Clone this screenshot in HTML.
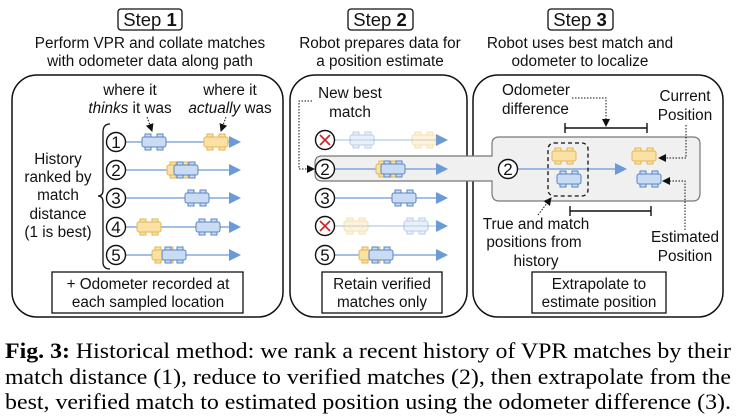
<!DOCTYPE html>
<html><head><meta charset="utf-8"><style>
html,body{margin:0;padding:0;background:#fff;width:736px;height:417px;overflow:hidden}
svg{display:block}
.t{font-family:"Liberation Sans",sans-serif;font-size:15.3px;fill:#111;text-anchor:middle}
.n{font-family:"Liberation Sans",sans-serif;font-size:17px;fill:#111;text-anchor:middle}
.c{font-family:"Liberation Serif",serif;font-size:22px;fill:#000}
</style></head><body>
<svg width="736" height="417" viewBox="0 0 736 417" xmlns="http://www.w3.org/2000/svg">
<defs>
<g id="cb"><rect x="3" y="0" width="6" height="4" fill="#c9dcf3" stroke="#5b85c0" stroke-width="1"/><rect x="15" y="0" width="6" height="4" fill="#c9dcf3" stroke="#5b85c0"/><rect x="3" y="12" width="6" height="4" fill="#c9dcf3" stroke="#5b85c0"/><rect x="15" y="12" width="6" height="4" fill="#c9dcf3" stroke="#5b85c0"/><rect x="0" y="3" width="24" height="10" rx="2" fill="#c9dcf3" stroke="#5b85c0"/></g>
<g id="cy"><rect x="3" y="0" width="6" height="4" fill="#fbe2a4" stroke="#e2b653"/><rect x="15" y="0" width="6" height="4" fill="#fbe2a4" stroke="#e2b653"/><rect x="3" y="12" width="6" height="4" fill="#fbe2a4" stroke="#e2b653"/><rect x="15" y="12" width="6" height="4" fill="#fbe2a4" stroke="#e2b653"/><rect x="0" y="3" width="24" height="10" rx="2" fill="#fbe2a4" stroke="#e2b653"/></g>
<marker id="ah" markerWidth="8" markerHeight="8" refX="7" refY="4" orient="auto" markerUnits="userSpaceOnUse"><path d="M0,0 L8,4 L0,8 z" fill="#111"/></marker>
</defs>

<rect x="118" y="9" width="64" height="21" rx="3" fill="#fff" stroke="#111" stroke-width="1.3"/>
<text x="150" y="26" class="t" style="font-size:18.5px">Step <tspan font-weight="bold">1</tspan></text>
<text x="150" y="48" class="t">Perform VPR and collate matches</text>
<text x="150" y="66" class="t">with odometer data along path</text>
<rect x="348" y="9" width="65" height="21" rx="3" fill="#fff" stroke="#111" stroke-width="1.3"/>
<text x="380" y="26" class="t" style="font-size:18.5px">Step <tspan font-weight="bold">2</tspan></text>
<text x="380" y="48" class="t">Robot prepares data for</text>
<text x="380" y="66" class="t">a position estimate</text>
<rect x="548" y="9" width="65" height="21" rx="3" fill="#fff" stroke="#111" stroke-width="1.3"/>
<text x="580" y="26" class="t" style="font-size:18.5px">Step <tspan font-weight="bold">3</tspan></text>
<text x="580" y="48" class="t">Robot uses best match and</text>
<text x="580" y="66" class="t">odometer to localize</text>

<rect x="12" y="75" width="271" height="242" rx="25" fill="none" stroke="#111" stroke-width="1.5"/>
<rect x="290" y="75" width="177" height="242" rx="25" fill="none" stroke="#111" stroke-width="1.5"/>
<rect x="473" y="75" width="250" height="242" rx="25" fill="none" stroke="#111" stroke-width="1.5"/>

<text x="130" y="95" class="t">where it</text>
<text x="130" y="113" class="t"><tspan font-style="italic">thinks</tspan> it was</text>
<text x="230" y="95" class="t">where it</text>
<text x="230" y="113" class="t"><tspan font-style="italic">actually</tspan> was</text>
<path d="M147,117 L152,131" stroke="#111" stroke-dasharray="1.5,1.5" fill="none" marker-end="url(#ah)"/>
<path d="M226,117 L221,131" stroke="#111" stroke-dasharray="1.5,1.5" fill="none" marker-end="url(#ah)"/>
<text x="58" y="164" class="t">History</text>
<text x="58" y="182" class="t">ranked by</text>
<text x="58" y="200" class="t">match</text>
<text x="58" y="219" class="t">distance</text>
<text x="58" y="237" class="t">(1 is best)</text>
<path d="M110,124 Q103,124 103,132 L103,190 Q103,196 98,196 Q103,196 103,202 L103,262 Q103,269 110,269" fill="none" stroke="#111" stroke-width="1.3"/>
<g stroke="#6a9ad8" stroke-width="1.3">
<line x1="124" y1="142" x2="232" y2="142"/><line x1="124" y1="170" x2="232" y2="170"/><line x1="124" y1="198" x2="232" y2="198"/><line x1="124" y1="227" x2="232" y2="227"/><line x1="124" y1="255" x2="232" y2="255"/>
</g>
<g fill="#6a9ad8">
<path d="M229,136 L241,142 L229,148z"/><path d="M229,164 L241,170 L229,176z"/><path d="M229,192 L241,198 L229,204z"/><path d="M229,221 L241,227 L229,233z"/><path d="M229,249 L241,255 L229,261z"/>
</g>
<use href="#cb" x="142" y="134"/><use href="#cy" x="204" y="134"/>
<use href="#cy" x="167" y="162"/><use href="#cb" x="174" y="162"/>
<use href="#cb" x="185" y="190"/>
<use href="#cy" x="137" y="219"/><use href="#cb" x="196" y="219"/>
<use href="#cy" x="152" y="247"/><use href="#cb" x="162" y="247"/>
<g fill="#fff" stroke="#111" stroke-width="1.4">
<circle cx="116" cy="142" r="9.5"/><circle cx="116" cy="170" r="9.5"/><circle cx="116" cy="198" r="9.5"/><circle cx="116" cy="227" r="9.5"/><circle cx="116" cy="255" r="9.5"/>
</g>
<text x="116" y="148" class="n">1</text><text x="116" y="176" class="n">2</text><text x="116" y="204" class="n">3</text><text x="116" y="233" class="n">4</text><text x="116" y="261" class="n">5</text>
<rect x="52" y="272" width="191" height="41" fill="#fff" stroke="#111" stroke-width="1.3"/>
<text x="148" y="289" class="t">+ Odometer recorded at</text>
<text x="148" y="307" class="t">each sampled location</text>

<path d="M322,156 L492,156 L492,144 Q492,137 499,137 L693,137 Q700,137 700,144 L700,193 Q700,201 693,201 L499,201 Q492,201 492,193 L492,181 L322,181 Q315,181 315,174 L315,163 Q315,156 322,156 z" fill="#f0f0f0" stroke="#777" stroke-width="1.2"/>

<text x="350" y="98" class="t">New best</text>
<text x="350" y="117" class="t">match</text>
<path d="M312,101 L299,101 L299,169 L314,169" fill="none" stroke="#111" stroke-dasharray="1.5,1.5" marker-end="url(#ah)"/>
<g stroke="#6a9ad8" stroke-width="1.3">
<line x1="334" y1="140" x2="440" y2="140" opacity=".5"/><line x1="334" y1="169" x2="440" y2="169"/><line x1="334" y1="198" x2="440" y2="198"/><line x1="334" y1="226" x2="440" y2="226" opacity=".5"/><line x1="334" y1="255" x2="440" y2="255"/>
</g>
<g fill="#6a9ad8">
<path d="M436,134 L448,140 L436,146z"/><path d="M436,163 L448,169 L436,175z"/><path d="M436,192 L448,198 L436,204z"/><path d="M436,220 L448,226 L436,232z"/><path d="M436,249 L448,255 L436,261z"/>
</g>
<g opacity=".4"><use href="#cb" x="350" y="132"/><use href="#cy" x="412" y="132"/><use href="#cy" x="344" y="218"/><use href="#cb" x="404" y="218"/></g>
<use href="#cy" x="376" y="161"/><use href="#cb" x="381" y="161"/>
<use href="#cb" x="392" y="190"/>
<use href="#cy" x="359" y="247"/><use href="#cb" x="369" y="247"/>
<g fill="#fff" stroke="#111" stroke-width="1.4">
<circle cx="325" cy="140" r="9.5"/><circle cx="325" cy="169" r="9.5"/><circle cx="325" cy="198" r="9.5"/><circle cx="325" cy="226" r="9.5"/><circle cx="325" cy="255" r="9.5"/>
</g>
<g stroke="#d42020" stroke-width="1.6"><path d="M320,135 L330,145 M330,135 L320,145"/><path d="M320,221 L330,231 M330,221 L320,231"/></g>
<text x="325" y="175" class="n">2</text><text x="325" y="204" class="n">3</text><text x="325" y="261" class="n">5</text>
<rect x="322" y="272" width="120" height="41" fill="#fff" stroke="#111" stroke-width="1.3"/>
<text x="382" y="289" class="t">Retain verified</text>
<text x="382" y="307" class="t">matches only</text>

<line x1="517" y1="169" x2="620" y2="169" stroke="#6a9ad8" stroke-width="1.3"/>
<path d="M615,163 L627,169 L615,175z" fill="#6a9ad8"/>
<circle cx="508" cy="169" r="9.5" fill="#fff" stroke="#111" stroke-width="1.4"/>
<text x="508" y="175" class="n">2</text>
<use href="#cy" x="552" y="148"/><use href="#cb" x="557" y="171"/>
<use href="#cy" x="632" y="148"/><use href="#cb" x="637" y="171"/>
<rect x="548" y="143" width="40" height="53" rx="6" fill="none" stroke="#111" stroke-width="1.3" stroke-dasharray="4,3"/>
<g stroke="#111" stroke-width="1.4"><path d="M565,128 L647,128 M565,123 L565,133 M647,123 L647,133"/><path d="M570,211 L651,211 M570,206 L570,216 M651,206 L651,216"/></g>
<text x="502" y="95" class="t" style="text-anchor:start">Odometer</text>
<text x="502" y="114" class="t" style="text-anchor:start">difference</text>
<path d="M572,98 L606,98 L606,126" fill="none" stroke="#111" stroke-dasharray="1.5,1.5" marker-end="url(#ah)"/>
<text x="685" y="101" class="t">Current</text>
<text x="685" y="120" class="t">Position</text>
<path d="M686,125 L686,158 L659,158" fill="none" stroke="#111" stroke-dasharray="1.5,1.5" marker-end="url(#ah)"/>
<text x="685" y="242" class="t">Estimated</text>
<text x="685" y="261" class="t">Position</text>
<path d="M685,230 L685,181 L663,181" fill="none" stroke="#111" stroke-dasharray="1.5,1.5" marker-end="url(#ah)"/>
<text x="536" y="229" class="t">True and match</text>
<text x="534" y="247" class="t">positions from</text>
<text x="536" y="266" class="t">history</text>
<path d="M538,215 L551,198" fill="none" stroke="#111" stroke-dasharray="1.5,1.5" marker-end="url(#ah)"/>
<rect x="532" y="272" width="134" height="41" fill="#fff" stroke="#111" stroke-width="1.3"/>
<text x="599" y="289" class="t">Extrapolate to</text>
<text x="599" y="307" class="t">estimate position</text>

<text x="5" y="358" class="c" textLength="726" lengthAdjust="spacingAndGlyphs"><tspan font-weight="bold">Fig. 3:</tspan> Historical method: we rank a recent history of VPR matches by their</text>
<text x="5" y="384" class="c" textLength="726" lengthAdjust="spacingAndGlyphs">match distance (1), reduce to verified matches (2), then extrapolate from the</text>
<text x="5" y="409" class="c" textLength="726" lengthAdjust="spacingAndGlyphs">best, verified match to estimated position using the odometer difference (3).</text>
</svg>
</body></html>
